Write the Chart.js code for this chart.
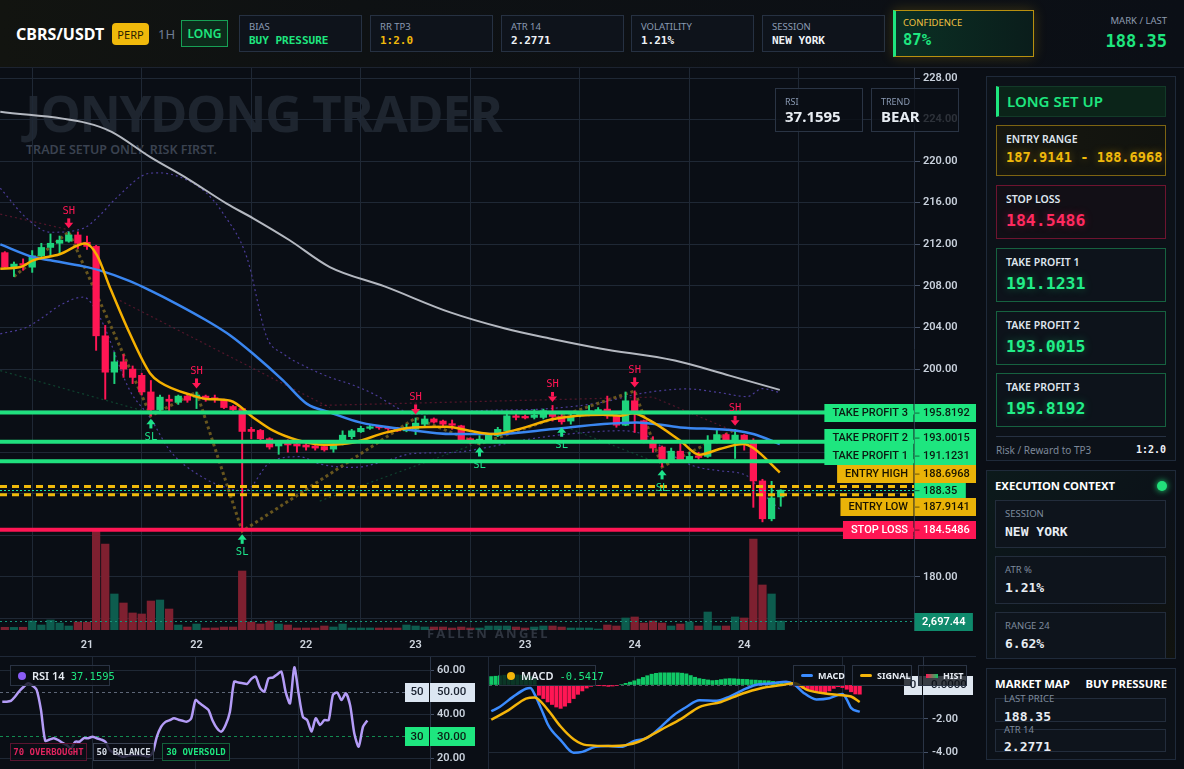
<!DOCTYPE html>
<html><head><meta charset="utf-8">
<script src="https://cdn.jsdelivr.net/npm/chart.js@4.4.1/dist/chart.umd.min.js"></script>
<style>
*{box-sizing:border-box;margin:0;padding:0}
html,body{width:1184px;height:769px;overflow:hidden;background:#0a0e15;font-family:"Noto Sans",sans-serif;color:#e6ebf2}
.abs{position:absolute}
.mono{font-family:"DejaVu Sans Mono",monospace;font-weight:700}
#top{left:0;top:0;width:1184px;height:68px;background:linear-gradient(90deg,#121410 0%,#0e1113 30%,#0b0f16 100%);border-bottom:1px solid #1c2330}
.stat{top:15px;width:123px;height:37px;border:1px solid #263142;background:#0e131b}
.stat .l{position:absolute;left:9px;top:5px;font-size:9.5px;line-height:12px;color:#8a9ab3}
.stat .v{position:absolute;left:9px;top:17px;font-size:11px;line-height:16px}
.ibox{width:88px;height:44px;border:1px solid #2a3444;background:rgba(11,15,22,0.82)}
.ibox .l{position:absolute;left:9px;top:6px;font-size:9px;color:#8a9ab3}
.ibox .v{position:absolute;left:9px;top:17px;font-size:15px;font-weight:700;color:#e8edf3}
.card{left:996px;width:170px;border:1px solid #263142;background:#0d131b}
.card .l{position:absolute;left:9px;font-size:10.5px;font-weight:600;color:#dfe5ee}
.card .v{position:absolute;left:9px}
.xc{left:995px;width:171px;height:48px;border:1px solid #232d3c;background:#0e141c}
.xc .l{position:absolute;left:9px;top:6px;font-size:9.5px;color:#7d8a9c}
.xc .v{position:absolute;left:9px;top:23px;font-size:13px;color:#e8edf3}
.lg{height:21px;border:1px solid #2a3343;background:rgba(10,14,21,0.78);font-size:11px;display:flex;align-items:center;padding-left:7px;white-space:nowrap}
.lg span{flex:none}
.lv{height:18px;background:rgba(10,14,21,0.8);font-family:"DejaVu Sans Mono",monospace;font-weight:700;font-size:9px;display:flex;align-items:center;justify-content:center}
.hd{font-size:11.3px;font-weight:700;line-height:16px;color:#fff}
</style></head>
<body>
<div id="top" class="abs">
  <div class="abs" style="left:16px;top:22px;font-size:16px;font-weight:700;line-height:24px;color:#fff">CBRS/USDT</div>
  <div class="abs" style="left:112px;top:23px;width:37px;height:22px;background:#f0b90b;border-radius:4px;color:#2a1f00;font-size:11px;display:flex;align-items:center;justify-content:center">PERP</div>
  <div class="abs" style="left:158px;top:24px;font-size:13px;line-height:20px;color:#6f7d94">1H</div>
  <div class="abs" style="left:181px;top:20px;width:47px;height:27px;border:1px solid #17a055;background:#0d2a1b;color:#1ee67f;font-size:12px;font-weight:600;display:flex;align-items:center;justify-content:center">LONG</div>
  <div class="abs stat" style="left:239px"><div class="l">BIAS</div><div class="v mono" style="color:#1ee67f">BUY PRESSURE</div></div>
  <div class="abs stat" style="left:370px"><div class="l">RR TP3</div><div class="v mono" style="color:#f0b90b">1:2.0</div></div>
  <div class="abs stat" style="left:501px"><div class="l">ATR 14</div><div class="v mono" style="color:#eef2f7">2.2771</div></div>
  <div class="abs stat" style="left:631px"><div class="l">VOLATILITY</div><div class="v mono" style="color:#eef2f7">1.21%</div></div>
  <div class="abs stat" style="left:762px"><div class="l">SESSION</div><div class="v mono" style="color:#eef2f7">NEW YORK</div></div>
  <div class="abs" style="left:893px;top:10px;width:141px;height:47px;border:1px solid #b8900f;border-left:3px solid #1ee67f;background:linear-gradient(90deg,#0b3024,#0a1d1b);box-shadow:0 0 12px rgba(240,185,11,0.22)">
    <div class="abs" style="left:7px;top:6px;font-size:9.5px;line-height:12px;color:#f0c040">CONFIDENCE</div>
    <div class="abs mono" style="left:7px;top:19px;font-size:15.5px;line-height:20px;color:#1ee67f">87%</div>
  </div>
  <div class="abs" style="right:17px;top:15px;font-size:9.5px;line-height:12px;color:#8d9bb0;text-align:right">MARK / LAST</div>
  <div class="abs mono" style="right:17px;top:30px;font-size:17px;line-height:22px;color:#1ee67f;text-align:right">188.35</div>
</div>

<div class="abs" style="left:25px;top:87px;font-size:51px;line-height:51px;font-weight:700;letter-spacing:-1.4px;color:#1e252f;white-space:nowrap">JONYDONG TRADER</div>
<div class="abs" style="left:26px;top:144px;font-size:12.5px;line-height:12.5px;font-weight:600;color:#3a4250;white-space:nowrap">TRADE SETUP ONLY. RISK FIRST.</div>

<div class="abs" style="left:0;top:68px;width:976px;height:588px"><canvas id="main" width="976" height="588" style="width:976px;height:588px"></canvas></div>
<div class="abs" style="left:427px;top:624px;font-size:13px;font-weight:700;letter-spacing:2.3px;color:rgba(90,100,115,0.45)">FALLEN ANGEL</div>

<div class="abs ibox" style="left:775px;top:88px"><div class="l">RSI</div><div class="v" id="rsiBoxV">37.1595</div></div>
<div class="abs ibox" style="left:871px;top:88px"><div class="l">TREND</div><div class="v">BEAR</div></div>

<!-- right setup panel -->
<div class="abs" style="left:986px;top:76px;width:190px;height:385px;border:1px solid #1f2a3a;background:#0c1118"></div>
<div class="abs" style="left:996px;top:86px;width:170px;height:31px;border:1px solid #123a28;border-left:3px solid #1ee67f;background:#0b2419;color:#1ee67f;font-size:15px;font-weight:600;line-height:29px;padding-left:8px">LONG SET UP</div>
<div class="abs card" style="top:125px;height:51px;border-color:#7d6412;background:linear-gradient(90deg,#17170f,#11130f)"><div class="l" style="top:6px">ENTRY RANGE</div><div class="v mono" style="top:23px;font-size:13.7px;color:#f0b90b;text-shadow:0 0 8px rgba(240,185,11,0.45)">187.9141 - 188.6968</div></div>
<div class="abs card" style="top:185px;height:54px;border-color:#6e1430;background:#120f16"><div class="l" style="top:6px">STOP LOSS</div><div class="v mono" style="top:25px;font-size:16.5px;color:#ff2a5f;text-shadow:0 0 8px rgba(255,30,90,0.4)">184.5486</div></div>
<div class="abs card" style="top:248px;height:54px;border-color:#166240"><div class="l" style="top:6px">TAKE PROFIT 1</div><div class="v mono" style="top:25px;font-size:16.5px;color:#22ee88;text-shadow:0 0 8px rgba(30,230,127,0.4)">191.1231</div></div>
<div class="abs card" style="top:311px;height:54px;border-color:#166240"><div class="l" style="top:6px">TAKE PROFIT 2</div><div class="v mono" style="top:25px;font-size:16.5px;color:#22ee88;text-shadow:0 0 8px rgba(30,230,127,0.4)">193.0015</div></div>
<div class="abs card" style="top:373px;height:54px;border-color:#166240"><div class="l" style="top:6px">TAKE PROFIT 3</div><div class="v mono" style="top:25px;font-size:16.5px;color:#22ee88;text-shadow:0 0 8px rgba(30,230,127,0.4)">195.8192</div></div>
<div class="abs" style="left:996px;top:436px;width:170px;height:1px;background:#263142"></div>
<div class="abs" style="left:996px;top:443px;font-size:10px;line-height:14px;color:#7d8899">Risk / Reward to TP3</div>
<div class="abs mono" style="left:1100px;width:66px;top:443px;font-size:10px;line-height:14px;color:#eef2f7;text-align:right">1:2.0</div>

<!-- execution context -->
<div class="abs" style="left:986px;top:470px;width:190px;height:189px;border:1px solid #1f2a3a;background:linear-gradient(135deg,#0c1a1b 0%,#0c1118 60%,#11130f 100%)"></div>
<div class="abs hd" style="left:995px;top:478px">EXECUTION CONTEXT</div>
<div class="abs" style="left:1157px;top:481px;width:10px;height:10px;border-radius:5px;background:#22e07a;box-shadow:0 0 6px #22e07a"></div>
<div class="abs xc" style="top:500px"><div class="l">SESSION</div><div class="v mono">NEW YORK</div></div>
<div class="abs xc" style="top:556px"><div class="l">ATR %</div><div class="v mono">1.21%</div></div>
<div class="abs xc" style="top:612px;height:47px;border-bottom:none"><div class="l">RANGE 24</div><div class="v mono">6.62%</div></div>
<div class="abs" style="left:986px;top:658px;width:190px;height:1px;background:#1f2a3a"></div>

<!-- market map -->
<div class="abs" style="left:986px;top:668px;width:190px;height:92px;border:1px solid #1f2a3a;background:#0c1118"></div>
<div class="abs hd" style="left:995px;top:676px">MARKET MAP</div>
<div class="abs hd" style="left:1060px;width:107px;top:676px;text-align:right">BUY PRESSURE</div>
<div class="abs" style="left:995px;top:698px;width:171px;height:24px;border:1px solid #232d3c;background:#0e141c"></div>
<div class="abs" style="left:995px;top:729px;width:171px;height:23px;border:1px solid #232d3c;background:#0e141c"></div>
<div class="abs" style="left:1004px;top:693px;font-size:9.5px;line-height:12px;color:#7d8a9c">LAST PRICE</div>
<div class="abs mono" style="left:1004px;top:709px;font-size:13px;line-height:16px;color:#e8edf3">188.35</div>
<div class="abs" style="left:1004px;top:724px;font-size:9.5px;line-height:12px;color:#7d8a9c">ATR 14</div>
<div class="abs mono" style="left:1004px;top:739px;font-size:13px;line-height:16px;color:#e8edf3">2.2771</div>

<!-- bottom panels -->
<div class="abs" style="left:0;top:656px;width:976px;height:1px;background:#1f2837"></div>
<div class="abs" style="left:0;top:657px;width:476px;height:112px"><canvas id="rsi" width="476" height="112" style="width:476px;height:112px"></canvas></div>
<div class="abs" style="left:488px;top:656px;width:1px;height:113px;background:#1f2837"></div>
<div class="abs" style="left:489px;top:657px;width:487px;height:112px"><canvas id="macd" width="487" height="112" style="width:487px;height:112px"></canvas></div>

<div class="abs lg" style="left:10px;top:665px;width:100px"><span style="width:8px;height:8px;border-radius:4px;background:#8b5cf6;display:inline-block;margin-right:6px"></span><span style="font-weight:600;color:#e6ebf2;margin-right:6px">RSI 14</span><span class="mono" id="rsiLegV" style="color:#1ee67f;font-size:10.5px;font-weight:400">37.1595</span></div>
<div class="abs lv" style="left:10px;top:743px;width:77px;border:1px solid #5a1430;color:#e0245e">70 OVERBOUGHT</div>
<div class="abs lv" style="left:93px;top:743px;width:61px;border:1px solid #3a4252;color:#d5dbe5">50 BALANCE</div>
<div class="abs lv" style="left:162px;top:743px;width:68px;border:1px solid #13603a;color:#1ee67f">30 OVERSOLD</div>

<div class="abs lg" style="left:499px;top:665px;width:97px"><span style="width:8px;height:8px;border-radius:4px;background:#f5b50a;display:inline-block;margin-right:6px"></span><span style="font-weight:600;color:#e6ebf2;margin-right:6px">MACD</span><span class="mono" style="color:#1ee67f;font-size:10.5px;font-weight:400">-0.5417</span></div>
<div class="abs lg" style="left:793px;top:665px;width:52px;font-size:9px;font-weight:700"><span style="width:12px;height:3px;border-radius:2px;background:#3b8cff;display:inline-block;margin-right:5px"></span>MACD</div>
<div class="abs lg" style="left:852px;top:665px;width:60px;font-size:9px;font-weight:700"><span style="width:12px;height:3px;border-radius:2px;background:#f5b50a;display:inline-block;margin-right:5px"></span>SIGNAL</div>
<div class="abs lg" style="left:918px;top:665px;width:49px;font-size:9px;font-weight:700"><span style="width:12px;height:4px;background:linear-gradient(90deg,#ff1654,#10c765);display:inline-block;margin-right:5px"></span>HIST</div>

<script>
// ================= DATA =================
const opens  = [211.2,209.8,210.1,209.8,210.9,211.7,212.1,212.3,212.9,212.2, 211.8,203.2,199.7,200.7,200.0,199.4,197.8,196.1,197.1,196.8, 197.4,197.3,197.4,197.2,197.0,196.4,196.2,194.2,194.1,193.3, 192.6,192.9,192.8,192.7,192.6,192.55,192.3,192.94,193.5,193.97, 194.3,194.45,194.4,194.3,194.06,194.22,194.7,195.2,195.0,194.7, 194.54,193.3,192.94,193.2,193.6,194.06,195.45,195.45,195.35,195.35, 195.83,195.44,195.0,195.5,195.6,195.9,196.15,195.5,194.6,196.95, 195.03,193.1,192.5,191.2,192.1,191.2,191.65,191.6,193.0,193.7, 193.1,193.65,193.1,189.24,185.6,187.7];
const highs  = [211.3,210.3,210.6,211.4,212.1,213.0,212.8,213.2,213.2,212.8, 211.9,204.2,201.6,201.4,200.3,199.6,198.9,197.5,197.5,197.5, 197.6,197.8,197.5,197.5,197.1,196.5,196.3,194.4,194.2,193.4, 193.1,193.2,193.1,192.9,192.8,192.6,193.1,194.06,194.2,194.5, 194.6,194.5,194.5,194.4,194.7,195.3,195.5,195.3,195.1,195.1, 194.6,193.4,193.6,193.7,194.4,195.7,195.7,195.6,196.1,196.15, 196.5,195.7,195.7,195.8,196.5,196.3,197.4,195.6,197.8,197.9, 195.1,193.5,192.6,192.4,192.9,192.0,192.0,193.6,194.1,193.8, 194.2,193.7,193.3,189.4,189.2,188.4];
const lows   = [209.7,208.9,209.5,209.3,210.7,210.9,211.1,212.2,211.6,211.5, 201.8,197.1,198.6,199.2,198.6,197.5,195.5,196.0,196.0,196.6, 196.8,196.2,196.9,196.8,196.2,196.0,184.4,193.3,193.2,192.3, 191.8,192.0,192.0,192.2,192.2,192.1,192.0,192.7,193.3,193.9, 194.2,194.2,194.1,194.0,193.97,193.7,194.5,194.8,194.5,194.2, 193.0,192.8,192.8,193.1,193.5,194.0,195.1,195.2,195.2,195.2, 195.0,194.7,194.7,195.4,195.5,195.8,195.25,194.4,194.55,193.9, 192.9,192.0,190.6,191.0,191.0,191.0,191.2,191.5,192.9,193.0, 191.4,192.2,186.7,185.3,185.4,186.8];
const closes = [209.8,210.1,210.0,210.9,211.7,212.1,212.4,212.9,212.1,211.8, 203.2,199.7,200.7,200.0,199.2,197.8,196.1,197.3,196.9,197.4, 197.0,197.5,197.1,197.1,196.3,196.1,194.0,194.0,193.3,192.5, 192.9,192.7,192.6,192.5,192.4,192.23,192.8,193.64,194.06,194.3, 194.45,194.35,194.25,194.05,194.38,194.8,195.2,194.9,194.7,194.6, 193.2,192.9,193.26,193.65,194.2,195.5,195.35,195.3,195.57,195.99, 195.44,194.93,195.44,195.6,195.99,196.1,195.5,194.6,196.95,195.83, 193.0,192.4,191.1,192.1,191.2,191.6,191.5,193.1,193.7,193.1, 193.65,193.0,189.24,185.6,187.6,188.35];
const volumes = [810,790,820,2700,1500,3000,2100,1200,2400,2350, 30180,25770,10790,8090,5100,4800,8690,8990,6290,1500, 900,1800,600,620,900,900,17680,2400,1800,2700, 1800,1500,600,600,600,1200,900,1800,600,600, 620,600,610,600,1500,1200,900,900,900,600, 900,600,600,1200,1200,1200,900,600,900,1200, 1200,900,600,600,600,300,1500,1200,3600,3900, 2100,2700,2100,1200,1800,2400,1200,5390,1200,1200, 3900,3600,27270,13490,10790,2697.44];

const xTickIdx    = [9,21,33,45,57,69,81];
const xTickLabels = ['21','22','22','23','23','24','24'];
const priceTicks  = [176,180,184,188,192,196,200,204,208,212,216,220,224,228];

const smaIdx = [-0.5,9,11.7,15.9,20,24.3,27.2,31.2,35.6,41.6,48.8,54.8,59.7,65.2,73.4,79.4,84.9];
const smaVal = [224.75,223.66,222.82,220.41,218.33,215.92,214.5,212.39,209.81,207.95,205.45,203.9,202.94,201.98,200.82,199.37,198.0];
const emaSlowIdx = [-0.5,3.1,5,8.6,10.4,13.7,15.9,18.8,22.1,24.7,27.2,30.5,33.1,35.6,38.9,43.6,49.1,53.9,60.1,65.6,69.2,74,80.2,82,84.9];
const emaSlowVal = [212.0,210.78,210.46,209.88,209.49,208.46,207.57,206.28,204.67,203.23,201.47,198.89,196.65,195.84,194.87,194.24,193.75,193.75,194.24,194.72,194.87,194.39,194.07,193.75,192.79];
const emaFastIdx = [-0.5,1.7,3.1,6,8.8,10.1,11.5,13.7,15.9,17,20.6,22.1,24.7,27.2,29.4,32,34.9,38.2,41.8,44.7,48.4,50.9,53.5,56.4,60.1,65.6,67.4,68.8,70.7,74,76.1,78.3,80.9,82,84.9];
const emaFastVal = [209.66,209.81,210.46,211.04,212.07,210.94,207.88,203.39,199.6,198.73,197.45,197.13,196.96,195.35,194.07,193.18,192.72,192.94,193.91,194.39,194.46,194.07,193.75,194.24,195.2,195.61,195.52,195.74,195.04,193.11,191.76,192.31,192.79,192.4,190.05];
const bbUpIdx = [-0.5,2.4,5,8.6,10.4,12.3,15.9,17,20,22.1,23.9,26.5,28.7,30.5,33.1,35.6,37.8,40.4,42.9,44.7,52,59.7,65.2,69.6,74.7,78.3,81.3,83,84.9];
const bbUpVal = [217.4,214.5,213.16,213.54,214.8,216.53,218.84,218.87,218.17,216.92,214.99,210.78,203.07,201.47,200.17,199.21,198.57,197.61,196.32,195.68,196.0,196.2,196.77,197.64,198.09,197.74,197.35,198.12,197.74];
const bbLoIdx = [-0.5,2.4,4.2,6,8.6,10.4,13.7,15.9,18.1,21.4,24.7,26.3,29,32.3,34.5,38.2,41.8,44.7,49.1,52.8,56.4,60.1,63.7,67.4,70.3,72.9,75.4,78.3,81.3,83.1,84.9];
const bbLoVal = [203.39,204.03,205.0,206.12,206.92,204.99,197.93,195.35,192.14,189.73,188.48,188.29,190.99,191.57,190.87,190.54,191.18,191.88,191.98,192.46,193.11,193.59,193.91,194.07,193.59,191.83,190.7,190.22,189.73,187.97,186.52];
const resistIdx = [[-0.5,7],[12.6,35.6],[34.5,71,79.4]];
const resistVal = [[214.9,213.4],[206.6,196.3],[196.5,197.3,194.2]];
const supportIdx = [[-0.5,15.9],[34.5,52],[61.5,71.8]];
const supportVal = [[199.85,195.8],[187.3,192.95],[194.4,190.9]];

const swingHighIdx = [7,21,45,60,69,80];
const swingLowIdx  = [16,26,52,61,72];
const zigzagIdx  = [1,7,16,21,26,45,52,69,72,80];
const zigzagType = ['L','H','L','H','L','H','L','H','L','H'];

const levelNames  = ['TAKE PROFIT 3','TAKE PROFIT 2','TAKE PROFIT 1','ENTRY HIGH','ENTRY LOW','STOP LOSS'];
const levelPrices = [195.8192,193.0015,191.1231,188.6968,187.9141,184.5486];
const levelKinds  = ['tp','tp','tp','entry','entry','sl'];
const lastPrice  = 188.35;
const lastVolume = 2697.44;

const rsiVals = [45.6,45.6,46.0,48.0,50.5,52.4,54.0,53.0,51.0,42.0, 28.0,28.5,29.1,28.3,27.0,26.0,24.5,27.5,27.5,29.1, 29.1,29.8,29.1,28.5,27.5,23.8,22.5,21.5,20.7,21.0, 21.5,21.5,21.5,21.2,20.7,22.5,29.8,34.3,36.5,37.3, 38.1,37.5,37.0,36.6,38.1,46.4,44.9,43.5,41.9,37.0, 33.6,32.1,35.1,41.0,54.7,54.3,54.0,53.7,56.0,57.0, 52.0,50.2,56.2,56.6,58.0,59.2,50.0,44.9,61.2,49.4, 38.8,37.3,32.1,38.1,35.1,37.3,37.3,48.7,49.8,46.4, 49.4,44.0,31.0,25.3,34.3,37.1595];
const rsiTicks = [20,30,40,50,60];
const rsiLevels = [70,50,30];

const macdIdx = [0,2,5,8,9,10,11,12,13,14,16,18,19,21,24,27,30,33,36,39,42,45,48,52,55,58,61,65,68,70,72,75,78,81,82,83,85];
const macdVal = [-1.55,-1.28,-0.7,-0.22,-0.18,-0.55,-1.1,-1.7,-2.3,-2.7,-3.25,-3.85,-4.0,-3.95,-3.65,-3.6,-3.65,-3.3,-3.12,-2.5,-1.8,-1.3,-0.9,-0.93,-0.68,-0.3,0.0,0.1,0.2,0.02,-0.45,-0.85,-0.78,-0.53,-0.85,-1.35,-1.58];
const signalIdx = [0,4,8,10,13,16,19,22,28,31,34,39,44,48,53,58,62,67,70,73,77,81,83,85];
const signalVal = [-2.05,-1.48,-0.8,-0.73,-1.45,-2.45,-3.2,-3.55,-3.6,-3.55,-3.35,-2.66,-1.97,-1.3,-1.0,-0.5,-0.2,0.0,0.1,-0.3,-0.5,-0.6,-0.68,-1.0];
const histVals = [0.5,0.52,0.55,0.58,0.6,0.6,0.6,0.58,0.55,0.5,0.35, -0.6,-0.8,-1.0,-1.15,-1.3,-1.38,-1.25,-1.05,-0.8,-0.55,-0.35,-0.18, -0.08,-0.04,-0.02,-0.05,-0.08,-0.06,-0.03,0.03, 0.1,0.17,0.25,0.35,0.45,0.55,0.64,0.69,0.72,0.72,0.72,0.72,0.72,0.7,0.66,0.56,0.46,0.38,0.34,0.3,0.26,0.28,0.32,0.36,0.38,0.37,0.35,0.34,0.33,0.3,0.29,0.27,0.26,0.25,0.22,0.18,0.13,0.08,0.03, -0.05,-0.12,-0.2,-0.3,-0.39,-0.45,-0.49,-0.45,-0.35,-0.2,-0.1,-0.15,-0.25,-0.4,-0.53,-0.5417];
const macdTicks = [-4,-2,0];

// ================= STYLE / HELPERS =================
Chart.defaults.font.family = 'Roboto, "Noto Sans", sans-serif';
Chart.defaults.color = '#c9d1dc';
const MONO = '"DejaVu Sans Mono", monospace';
const TAGFONT = '500 11px Roboto';
const GRID = '#1f2835';
const GREEN = '#1ed47c', RED = '#ff1654';
const X_MIN = -0.53, X_MAX = 99.6;
const idx = opens.map((_, i) => i);
const up = idx.map(i => closes[i] >= opens[i]);
const pts = (xs, ys) => xs.map((x, k) => ({x, y: ys[k]}));
const KIND = {
  tp:    {line:'#20e07e', w:4, dash:[], box:'#1ee67f', txt:'#0b1a12'},
  entry: {line:'#f0b90b', w:3, dash:[7,5], box:'#eab308', txt:'#1a1400'},
  sl:    {line:'#ff1654', w:4, dash:[], box:'#ff1654', txt:'#ffffff'}
};
function hline(ctx, x1, x2, y){ ctx.beginPath(); ctx.moveTo(x1, y); ctx.lineTo(x2, y); ctx.stroke(); }
function noPad(width){ return s => { s.width = width; s.paddingTop = 0; s.paddingBottom = 0; }; }
function noPadX(height){ return s => { s.height = height; s.paddingLeft = 0; s.paddingRight = 0; }; }
function layoutTags(tags){
  const fixed = tags.find(t => t.fixed);
  const above = tags.filter(t => !t.fixed && t.y <= fixed.y).sort((a,b) => b.y - a.y);
  const below = tags.filter(t => !t.fixed && t.y > fixed.y).sort((a,b) => a.y - b.y);
  let lim = fixed.y - fixed.h/2;
  above.forEach(t => { if (t.y + t.h/2 > lim) t.y = lim - t.h/2; lim = t.y - t.h/2; });
  lim = fixed.y + fixed.h/2;
  below.forEach(t => { if (t.y - t.h/2 < lim) t.y = lim + t.h/2; lim = t.y + t.h/2; });
}

const overlayPlugin = {
  id: 'overlay',
  afterDatasetsDraw(chart){
    const {ctx, chartArea: a, scales} = chart;
    const x = scales.x, y = scales.y, yv = scales.yv;
    ctx.save();
    const vy = Math.round(yv.getPixelForValue(lastVolume)) + 0.5;
    ctx.strokeStyle = '#13977a'; ctx.lineWidth = 1; ctx.setLineDash([2,3]);
    hline(ctx, a.left, a.right, vy);
    levelPrices.forEach((p, k) => {
      const st = KIND[levelKinds[k]];
      ctx.strokeStyle = st.line; ctx.lineWidth = st.w; ctx.setLineDash(st.dash);
      hline(ctx, a.left, a.right, y.getPixelForValue(p));
    });
    ctx.strokeStyle = '#1ee6a0'; ctx.lineWidth = 1; ctx.setLineDash([2,2]);
    hline(ctx, a.left, a.right, Math.round(y.getPixelForValue(lastPrice)) + 0.5);
    ctx.setLineDash([]);
    // swing markers
    ctx.font = '10.5px ' + MONO; ctx.textAlign = 'center'; ctx.textBaseline = 'middle';
    swingHighIdx.forEach(i => {
      const cx = x.getPixelForValue(i), hy = y.getPixelForValue(highs[i]);
      const tip = hy - 3.5;
      ctx.fillStyle = RED;
      ctx.beginPath(); ctx.moveTo(cx - 4.5, tip - 5.5); ctx.lineTo(cx + 4.5, tip - 5.5); ctx.lineTo(cx, tip); ctx.closePath(); ctx.fill();
      ctx.fillRect(cx - 1.5, tip - 10, 3, 4.6);
      ctx.fillText('SH', cx, hy - 21);
    });
    swingLowIdx.forEach(i => {
      const cx = x.getPixelForValue(i), ly = y.getPixelForValue(lows[i]);
      const tip = ly + 3;
      ctx.fillStyle = '#1de28a';
      ctx.beginPath(); ctx.moveTo(cx - 4.5, tip + 5.5); ctx.lineTo(cx + 4.5, tip + 5.5); ctx.lineTo(cx, tip); ctx.closePath(); ctx.fill();
      ctx.fillRect(cx - 1.5, tip + 5, 3, 4.6);
      ctx.fillText('SL', cx, ly + 21);
    });
    // price tags
    const tags = levelPrices.map((p, k) => ({name: levelNames[k], text: p.toFixed(4), y: y.getPixelForValue(p), h: 18, st: KIND[levelKinds[k]]}));
    tags.push({name: null, text: lastPrice.toFixed(2), y: y.getPixelForValue(lastPrice), h: 15, fixed: true, st: {box:'#1ee67f', txt:'#0b1a12'}});
    layoutTags(tags);
    ctx.font = TAGFONT; ctx.textBaseline = 'middle';
    tags.forEach(t => {
      const top = Math.round(t.y - t.h/2);
      if (t.name){
        const tw = ctx.measureText(t.name).width;
        ctx.fillStyle = t.st.box; ctx.fillRect(a.right - tw - 14, top, tw + 13.5, t.h);
        ctx.fillStyle = t.st.txt; ctx.textAlign = 'right'; ctx.fillText(t.name, a.right - 6, top + t.h/2 + 0.5);
      }
      const pw = ctx.measureText(t.text).width;
      ctx.fillStyle = t.st.box; ctx.fillRect(a.right + 0.5, top, pw + 17, t.h);
      ctx.fillStyle = t.st.txt; ctx.textAlign = 'left'; ctx.fillText(t.text, a.right + 9, top + t.h/2 + 0.5);
      ctx.fillStyle = 'rgba(0,0,0,0.45)'; ctx.fillRect(a.right + 1, top + t.h/2 - 0.5, 4.5, 1.2);
    });
    const vt = lastVolume.toLocaleString('en-US', {minimumFractionDigits: 2, maximumFractionDigits: 2});
    ctx.font = '600 11px Roboto';
    const vw = ctx.measureText(vt).width;
    ctx.fillStyle = '#0f8a6c'; ctx.fillRect(a.right + 0.5, Math.round(vy - 9), vw + 15, 18);
    ctx.fillStyle = '#ffffff'; ctx.textAlign = 'left'; ctx.fillText(vt, a.right + 8, vy + 0.5);
    ctx.restore();
  }
};

const hiddenTick = v => levelPrices.concat([lastPrice]).some(p => Math.abs(p - v) < 1.3);
const lineDS = (data, color, w, order, extra) => Object.assign({type:'line', data, borderColor: color, borderWidth: w, pointRadius: 0, cubicInterpolationMode: 'monotone', order, yAxisID: 'y'}, extra || {});

const mainDatasets = [
  {type:'bar', yAxisID:'yv', data: idx.map(i => ({x: i, y: volumes[i]})), backgroundColor: idx.map(i => up[i] ? '#0d5c4e' : '#7e2030'), barThickness: 7.6, grouped: false, order: 20},
  lineDS(pts(bbUpIdx, bbUpVal), '#4b3c98', 1.2, 16, {borderDash:[2,3]}),
  lineDS(pts(bbLoIdx, bbLoVal), '#4b3c98', 1.2, 16, {borderDash:[2,3]})
];
resistIdx.forEach((xs, k) => mainDatasets.push(lineDS(pts(xs, resistVal[k]), 'rgba(140,30,60,0.55)', 1.2, 15, {borderDash:[2,3], cubicInterpolationMode:'default', tension:0})));
supportIdx.forEach((xs, k) => mainDatasets.push(lineDS(pts(xs, supportVal[k]), 'rgba(20,110,70,0.55)', 1.2, 15, {borderDash:[2,3], cubicInterpolationMode:'default', tension:0})));
mainDatasets.push(lineDS(zigzagIdx.map((i, k) => ({x: i, y: zigzagType[k] === 'H' ? highs[i] : lows[i]})), 'rgba(120,98,32,0.85)', 3, 14, {borderDash:[3,3], cubicInterpolationMode:'default', tension:0}));
mainDatasets.push({type:'bar', yAxisID:'y', data: idx.map(i => ({x: i, y: [lows[i], highs[i]]})), backgroundColor: idx.map(i => up[i] ? GREEN : RED), barThickness: 1.3, grouped: false, order: 10});
mainDatasets.push({type:'bar', yAxisID:'y', data: idx.map(i => ({x: i, y: [opens[i], closes[i]]})), backgroundColor: idx.map(i => up[i] ? GREEN : RED), barThickness: 6.6, minBarLength: 1.5, grouped: false, order: 9});
mainDatasets.push(lineDS(pts(smaIdx, smaVal), '#b4b8c0', 2, 5));
mainDatasets.push(lineDS(pts(emaSlowIdx, emaSlowVal), '#3a86f0', 2.5, 4));
mainDatasets.push(lineDS(pts(emaFastIdx, emaFastVal), '#f5b000', 2.5, 3));

new Chart(document.getElementById('main'), {
  type: 'bar',
  data: {datasets: mainDatasets},
  options: {
    responsive: false, animation: false, events: [],
    layout: {padding: 0},
    plugins: {legend: {display: false}, tooltip: {enabled: false}},
    scales: {
      x: {type: 'linear', min: X_MIN, max: X_MAX, offset: false,
          grid: {color: GRID, drawTicks: false}, border: {display: false},
          afterBuildTicks: s => { s.ticks = xTickIdx.map(v => ({value: v})); },
          ticks: {autoSkip: false, maxRotation: 0, padding: 9, color: '#d0d6df', font: {size: 11, weight: '600'},
                  callback: v => { const k = xTickIdx.indexOf(v); return k >= 0 ? xTickLabels[k] : ''; }},
          afterFit: noPadX(26)},
      y: {type: 'linear', position: 'right', min: 174.9, max: 228.962,
          grid: {color: GRID, tickLength: 6, tickColor: '#445066'}, border: {color: '#2a3445'},
          afterBuildTicks: s => { s.ticks = priceTicks.map(v => ({value: v})); },
          ticks: {padding: 3, color: '#c9d1dc', font: {size: 11, weight: '600'},
                  callback: v => hiddenTick(v) ? '' : v.toFixed(2)},
          afterFit: noPad(62)},
      yv: {type: 'linear', display: false, min: 0, max: 168400}
    }
  },
  plugins: [overlayPlugin]
});

// ================= RSI =================
function drawTag(ctx, x1, x2, cy, h, bg, fg, text, align, tx){
  ctx.fillStyle = bg; ctx.fillRect(x1, Math.round(cy - h/2), x2 - x1, h);
  ctx.fillStyle = fg; ctx.textAlign = align; ctx.textBaseline = 'middle'; ctx.fillText(text, tx, cy + 0.5);
}
const RSI_TAG = {70: ['#e0245e', '#ffffff'], 50: ['#dce6f2', '#1a2230'], 30: ['#1ee67f', '#0b2015']};
const rsiPlugin = {
  id: 'rsiov',
  beforeDatasetsDraw(chart){
    const {ctx, chartArea: a, scales: {y}} = chart;
    ctx.save(); ctx.lineWidth = 1; ctx.setLineDash([3,3]);
    ctx.strokeStyle = '#5d6677'; hline(ctx, a.left, a.right, Math.round(y.getPixelForValue(50)) + 0.5);
    ctx.strokeStyle = '#138a50'; hline(ctx, a.left, a.right, Math.round(y.getPixelForValue(30)) + 0.5);
    ctx.restore();
  },
  afterDraw(chart){
    const {ctx, chartArea: a, scales: {y}} = chart;
    ctx.save(); ctx.font = '500 11.5px Roboto';
    rsiLevels.forEach(v => {
      const cy = y.getPixelForValue(v), c = RSI_TAG[v];
      drawTag(ctx, a.right - 25, a.right - 1, cy, 19, c[0], c[1], String(v), 'center', a.right - 13);
      drawTag(ctx, a.right, chart.width - 1, cy, 19, c[0], c[1], v.toFixed(2), 'left', a.right + 7);
    });
    ctx.restore();
  }
};
new Chart(document.getElementById('rsi'), {
  type: 'line',
  data: {datasets: [{data: rsiVals.map((v, i) => ({x: i, y: v})), borderColor: '#b49cf7', borderWidth: 2.5, pointRadius: 0, tension: 0.25}]},
  options: {
    responsive: false, animation: false, events: [], layout: {padding: 0},
    plugins: {legend: {display: false}, tooltip: {enabled: false}},
    scales: {
      x: {type: 'linear', min: X_MIN, max: X_MAX, grid: {color: GRID, drawTicks: false}, border: {display: false},
          afterBuildTicks: s => { s.ticks = [21,45,69].map(v => ({value: v})); },
          ticks: {display: false}, afterFit: noPadX(0)},
      y: {type: 'linear', position: 'right', min: 15.15, max: 65.9,
          grid: {color: c => (c.tick && (c.tick.value === 50 || c.tick.value === 30)) ? 'rgba(0,0,0,0)' : GRID, tickLength: 4, tickColor: '#445066'},
          border: {color: '#2a3445'},
          afterBuildTicks: s => { s.ticks = rsiTicks.map(v => ({value: v})); },
          ticks: {padding: 3, color: '#c9d1dc', font: {size: 11, weight: '600'}, callback: v => (v === 50 || v === 30) ? '' : v.toFixed(2)},
          afterFit: noPad(46)}
    }
  },
  plugins: [rsiPlugin]
});

// ================= MACD =================
const macdPlugin = {
  id: 'macdov',
  beforeDatasetsDraw(chart){
    const {ctx, chartArea: a, scales: {y}} = chart;
    ctx.save(); ctx.lineWidth = 1; ctx.setLineDash([3,3]); ctx.strokeStyle = 'rgba(190,200,215,0.4)';
    hline(ctx, a.left, a.right, Math.round(y.getPixelForValue(0)) + 0.5);
    ctx.restore();
  },
  afterDraw(chart){
    const {ctx, chartArea: a, scales: {y}} = chart;
    ctx.save(); ctx.font = '500 11.5px Roboto';
    const cy = y.getPixelForValue(0);
    drawTag(ctx, a.right - 19, a.right - 1, cy, 19, '#dfe7f1', '#1a2230', '0', 'center', a.right - 10);
    drawTag(ctx, a.right, a.right + 50, cy, 19, '#dfe7f1', '#1a2230', (0).toFixed(4), 'left', a.right + 8);
    ctx.restore();
  }
};
new Chart(document.getElementById('macd'), {
  type: 'bar',
  data: {datasets: [
    {type: 'bar', data: histVals.map((v, i) => ({x: i, y: v})), backgroundColor: histVals.map(v => v >= 0 ? '#10c765' : '#ff1654'), barThickness: 3.3, grouped: false, order: 5},
    {type: 'line', data: pts(macdIdx, macdVal), borderColor: '#3b8cff', borderWidth: 2.5, pointRadius: 0, cubicInterpolationMode: 'monotone', order: 2},
    {type: 'line', data: pts(signalIdx, signalVal), borderColor: '#f5b50a', borderWidth: 2.5, pointRadius: 0, cubicInterpolationMode: 'monotone', order: 1}
  ]},
  options: {
    responsive: false, animation: false, events: [], layout: {padding: 0},
    plugins: {legend: {display: false}, tooltip: {enabled: false}},
    scales: {
      x: {type: 'linear', min: X_MIN, max: X_MAX, offset: false, grid: {color: GRID, drawTicks: false}, border: {display: false},
          afterBuildTicks: s => { s.ticks = [45,69].map(v => ({value: v})); },
          ticks: {display: false}, afterFit: noPadX(0)},
      y: {type: 'linear', position: 'right', min: -4.96, max: 1.655,
          grid: {color: c => (c.tick && c.tick.value === 0) ? 'rgba(0,0,0,0)' : GRID, tickLength: 5, tickColor: '#445066'},
          border: {color: '#2a3445'},
          afterBuildTicks: s => { s.ticks = macdTicks.map(v => ({value: v})); },
          ticks: {padding: 4, color: '#c9d1dc', font: {size: 11, weight: '600'}, callback: v => v === 0 ? '' : v.toFixed(2)},
          afterFit: noPad(53)}
    }
  },
  plugins: [macdPlugin]
});

document.getElementById('rsiBoxV').textContent = rsiVals[rsiVals.length - 1].toFixed(4);
document.getElementById('rsiLegV').textContent = rsiVals[rsiVals.length - 1].toFixed(4);
</script>
</body></html>
